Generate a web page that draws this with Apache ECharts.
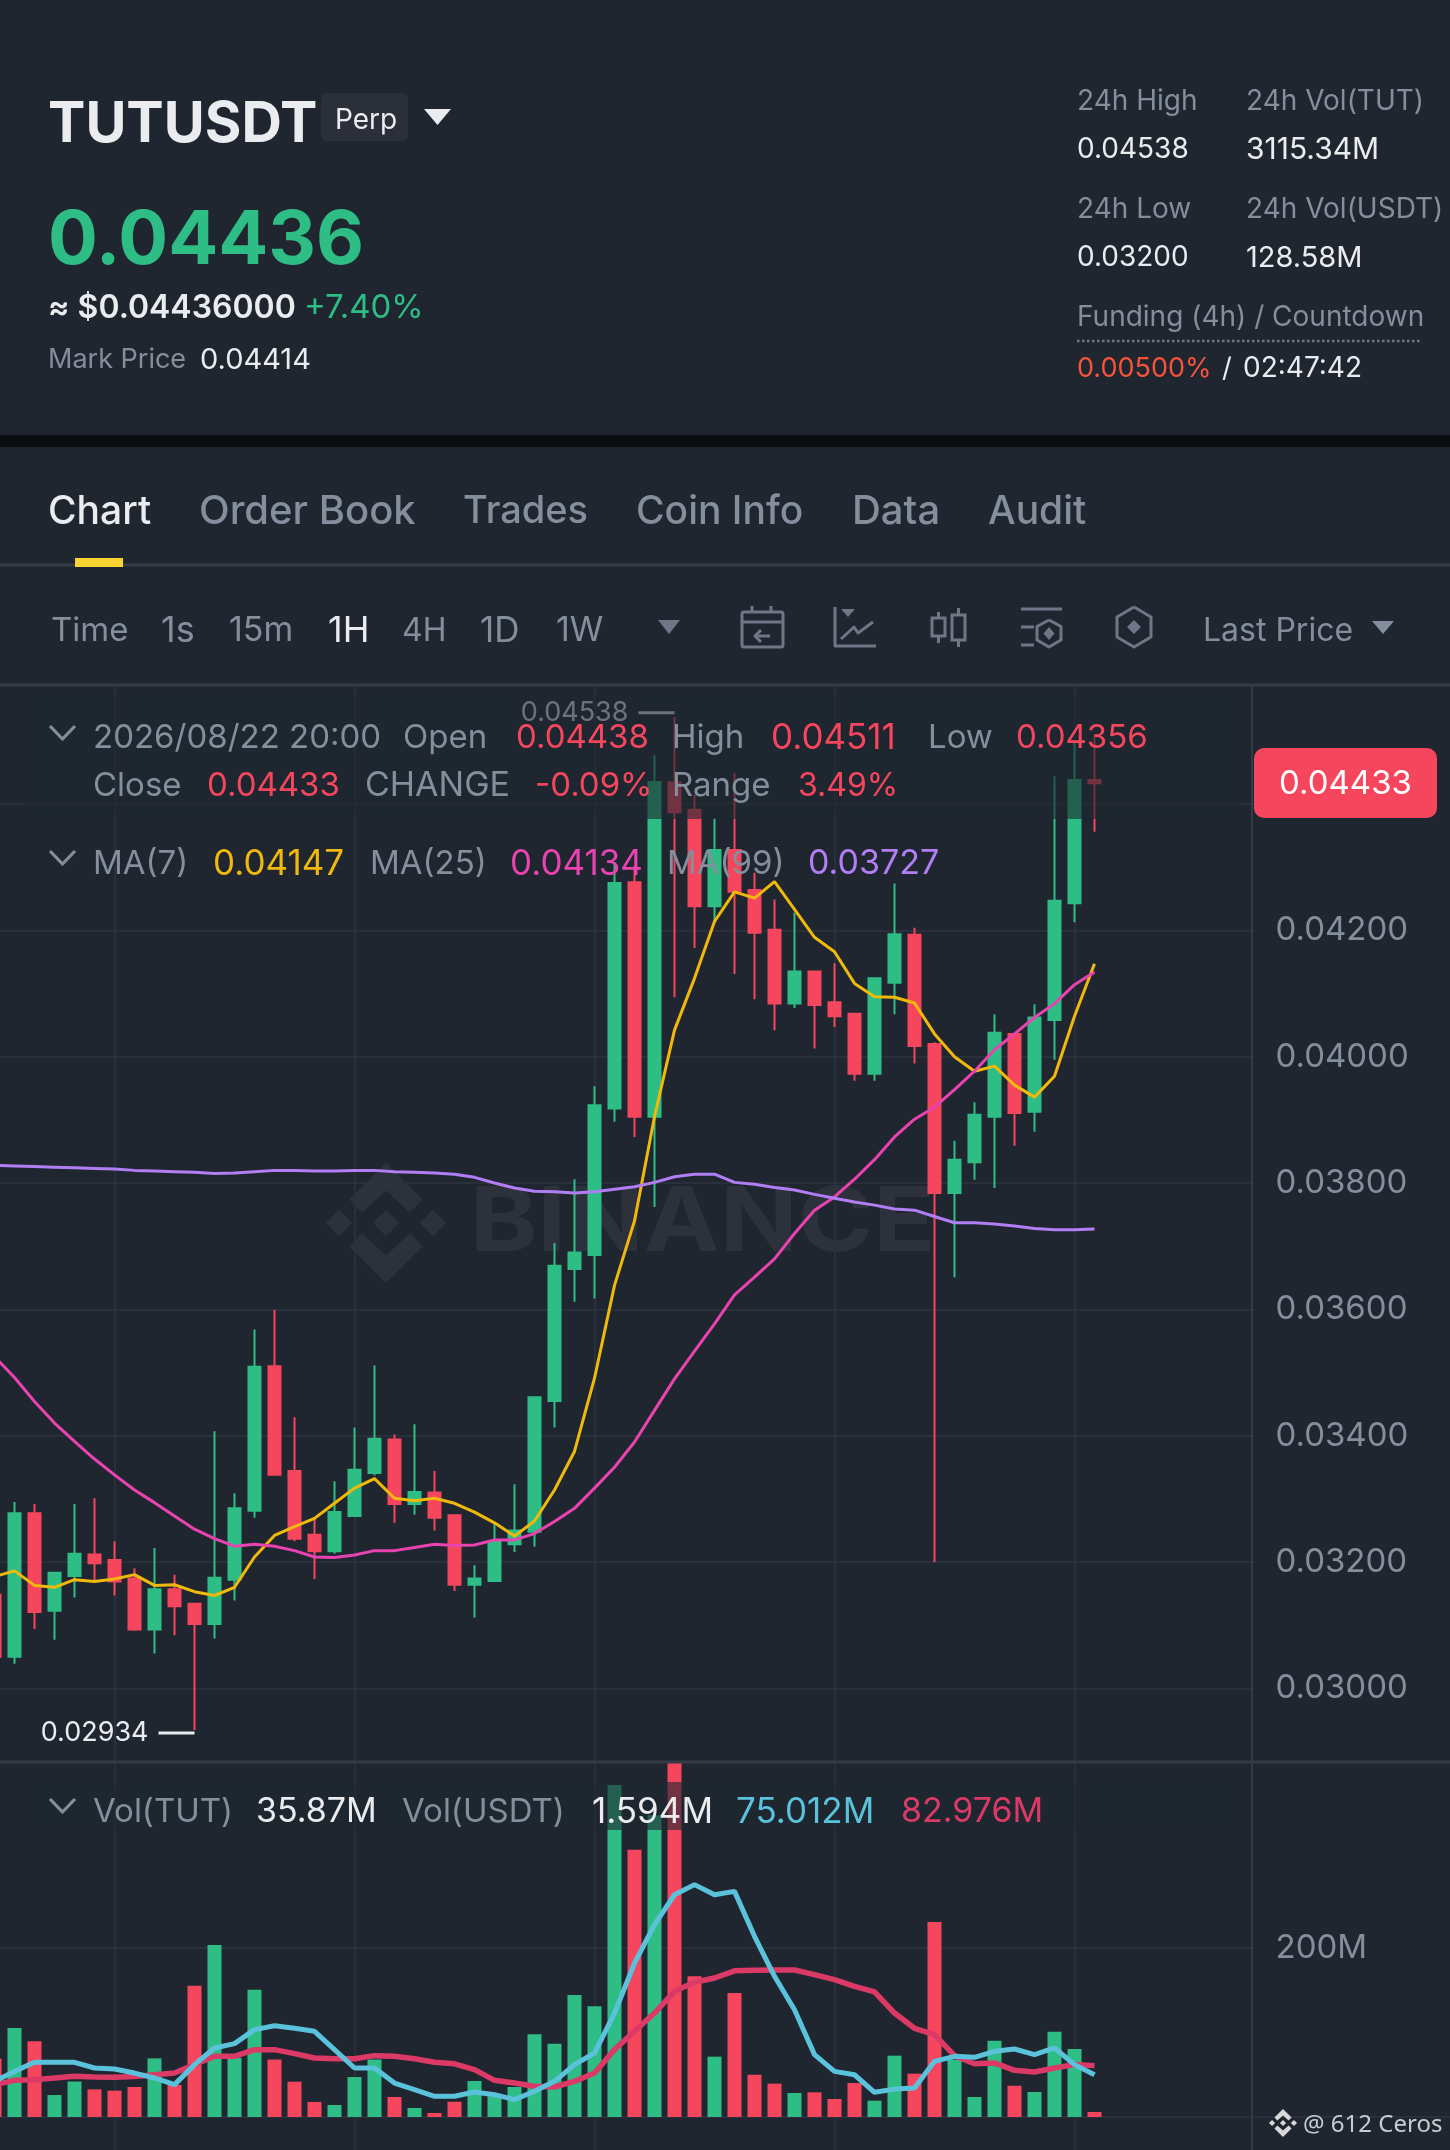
<!DOCTYPE html>
<html><head><meta charset="utf-8">
<style>html,body{margin:0;padding:0;background:#1F2630}#c{width:1450px;height:2150px}</style>
<script src="https://cdn.jsdelivr.net/npm/echarts@6/dist/echarts.min.js"></script>
</head><body><div id="c"></div>
<script>
const categories = [
'08/20 13:00','08/20 14:00','08/20 15:00','08/20 16:00','08/20 17:00','08/20 18:00','08/20 19:00','08/20 20:00','08/20 21:00','08/20 22:00','08/20 23:00',
'08/21 00:00','08/21 01:00','08/21 02:00','08/21 03:00','08/21 04:00','08/21 05:00','08/21 06:00','08/21 07:00','08/21 08:00','08/21 09:00','08/21 10:00','08/21 11:00','08/21 12:00','08/21 13:00','08/21 14:00','08/21 15:00','08/21 16:00','08/21 17:00','08/21 18:00','08/21 19:00','08/21 20:00','08/21 21:00','08/21 22:00','08/21 23:00',
'08/22 00:00','08/22 01:00','08/22 02:00','08/22 03:00','08/22 04:00','08/22 05:00','08/22 06:00','08/22 07:00','08/22 08:00','08/22 09:00','08/22 10:00','08/22 11:00','08/22 12:00','08/22 13:00','08/22 14:00','08/22 15:00','08/22 16:00','08/22 17:00','08/22 18:00','08/22 19:00','08/22 20:00',
'08/22 21:00','08/22 22:00','08/22 23:00','08/23 00:00','08/23 01:00','08/23 02:00','08/23 03:00','08/23 04:00'];

const opens = [.03148,.03050,.03277,.03123,.03178,.03212,.03203,.03174,.03093,.03157,.03134,.03102,.03172,.03281,.03510,.03344,.03243,.03217,.03273,.03341,.03394,.03292,.03310,.03274,.03164,.03170,.03228,.03248,.03455,.03664,.03686,.03918,.04276,.03905,.04434,.04391,.04238,.04327,.04264,.04201,.04084,.04135,.04086,.04068,.03973,.04117,.04193,.04020,.03784,.03833,.03905,.04036,.03913,.04058,.04243,.04438];
const closes = [.03050,.03277,.03121,.03183,.03213,.03198,.03169,.03093,.03157,.03130,.03102,.03175,.03285,.03509,.03338,.03237,.03217,.03279,.03346,.03395,.03292,.03311,.03270,.03164,.03174,.03232,.03250,.03461,.03669,.03690,.03923,.04275,.03905,.04435,.04387,.04238,.04327,.04261,.04196,.04084,.04135,.04082,.04064,.03973,.04124,.04194,.04017,.03784,.03837,.03908,.04038,.03911,.04062,.04247,.04438,.04433];
const lows = [.03030,.03039,.03094,.03077,.03144,.03169,.03147,.03091,.03055,.03084,.02934,.03079,.03139,.03270,.03338,.03233,.03173,.03213,.03273,.03337,.03262,.03275,.03250,.03154,.03112,.03170,.03216,.03224,.03413,.03612,.03617,.03897,.03873,.03762,.04094,.04172,.04213,.04131,.04091,.04042,.04077,.04013,.04047,.03962,.03962,.04067,.03989,.03200,.03651,.03805,.03792,.03859,.03881,.03995,.04213,.04356];
const highs = [.03160,.03295,.03292,.03183,.03292,.03301,.03233,.03190,.03222,.03180,.03134,.03407,.03309,.03568,.03599,.03429,.03271,.03328,.03413,.03511,.03402,.03418,.03344,.03275,.03195,.03260,.03323,.03462,.03705,.03806,.03953,.04308,.04302,.04477,.04538,.04415,.04377,.04449,.04291,.04249,.04228,.04135,.04148,.04068,.04124,.04274,.04204,.04023,.03867,.03928,.04067,.04036,.04083,.04444,.04499,.04511];
const ma7 = [.03177,.03186,.03163,.03160,.03172,.03169,.03173,.03180,.03163,.03164,.03153,.03147,.03160,.03208,.03242,.03256,.03269,.03293,.03317,.03332,.03301,.03297,.03301,.03293,.03279,.03262,.03241,.03265,.03314,.03375,.03491,.03638,.03740,.03905,.04042,.04124,.04214,.04261,.04251,.04277,.04233,.04189,.04166,.04116,.04095,.04094,.04085,.04036,.04000,.03977,.03985,.03955,.03936,.03969,.04064,.04147];
const ma25 = [.03525,.03492,.03454,.03420,.03391,.03363,.03338,.03314,.03294,.03273,.03252,.03237,.03225,.03228,.03225,.03218,.03208,.03207,.03211,.03218,.03218,.03223,.03228,.03226,.03227,.03235,.03235,.03245,.03264,.03285,.03317,.03350,.03390,.03440,.03490,.03534,.03577,.03623,.03651,.03680,.03720,.03757,.03778,.03806,.03837,.03873,.03901,.03920,.03948,.03977,.04011,.04036,.04062,.04084,.04114,.04134];
const ma99 = [.03828,.03827,.03826,.03825,.03824,.03823,.03822,.03820,.03819,.03818,.03817,.03815,.03816,.03818,.03820,.03820,.03819,.03819,.03820,.03820,.03818,.03817,.03816,.03814,.03809,.03800,.03792,.03787,.03786,.03784,.03786,.03790,.03794,.03801,.03810,.03814,.03814,.03801,.03798,.03793,.03789,.03782,.03776,.03770,.03765,.03759,.03757,.03747,.03737,.03737,.03735,.03732,.03728,.03726,.03726,.03727];
const volumes = [69,105.3,89.6,26,42,32.7,31.2,35.5,69.4,38,155.4,203.6,70,150.7,68,41.8,17.8,14.2,47.3,68,23.7,10.7,4.7,18.1,42.6,24.5,35.5,97.8,86.8,144.4,131,393,316.4,357,419,166.5,71.4,146.8,50,39.5,28.4,29.2,21.3,40.2,19.3,72.6,51.3,230.8,67.9,23.7,90.3,37,29.6,101,80.5,5.9];
const volMa7 = [42.2,54,64.7,64.7,64.7,58,56.8,52,46.2,38.3,62,81.7,86.8,103.4,108,105,101.4,79.7,58,58,40.2,32.3,24.5,24.5,29.6,26.4,20.5,30.4,42.2,62,75.7,123,182,227.6,263,275,263,267,213.8,166.5,127,73.8,54,50,29.2,33,34.3,65.9,71.8,70.6,77.7,80.5,73.8,81.7,62,50];
const volMa25 = [38.3,43.4,44.2,46.2,48.1,47.3,47,48,50,52,62,71.8,71.8,79.7,79.7,75,69.8,69,69,72.6,71.8,69,64.7,63,56,43.4,40.2,36.3,35.5,42.2,52,79.7,101.4,123,148.7,159.4,164.5,173,173.6,174,174,168.5,162.5,154.6,148,123,105,97.4,72.6,63,64,55.2,53.3,58,62,60.8];
const priceTicks = [.030,.032,.034,.036,.038,.040,.042,.044];
const priceLabels = [.030,.032,.034,.036,.038,.040,.042];

const BG='#1F2630', UP='#2EBD85', DOWN='#F6465D', GREY='#848E9C', WHITE='#EAECEF', LINE='#343B47', GRID='#2A303B', FONT='Inter';
const els=[];
const T=(x,y,text,fill,size,weight,align,z,extra)=>els.push(Object.assign({type:'text',x,y:y+3,z:z||60,silent:true,style:{text,fill,font:(weight||400)+' '+size+'px '+FONT+', sans-serif',textAlign:align||'left',textVerticalAlign:'middle'}},extra||{}));
const R=(x,y,w,h,fill,z,r)=>els.push({type:'rect',z:z==null?60:z,silent:true,shape:{x,y,width:w,height:h,r:r||0},style:{fill}});
const L=(pts,stroke,w,z)=>els.push({type:'polyline',z:z==null?60:z,silent:true,shape:{points:pts},style:{stroke,lineWidth:w||3,fill:null,lineJoin:'round'}});
const P=(pts,fill,z)=>els.push({type:'polygon',z:z==null?60:z,silent:true,shape:{points:pts},style:{fill}});
const logo=(cx,cy,s,fill,z)=>{
  const m=(a)=>a.map(p=>[cx+p[0]*s,cy+p[1]*s]);
  const dia=(c)=>m([[c,-.22],[c+.22,0],[c,.22],[c-.22,0]]);
  P(dia(0),fill,z);P(dia(-.78),fill,z);P(dia(.78),fill,z);
  P(m([[0,-1],[.61,-.39],[.4,-.17],[0,-.54],[-.4,-.17],[-.61,-.39]]),fill,z);
  P(m([[0,1],[.61,.39],[.4,.17],[0,.54],[-.4,.17],[-.61,.39]]),fill,z);
};

// page chrome
R(0,435,1450,12,'#0B0E11',1);
R(0,563.5,1450,3,LINE,1);
R(0,683.5,1450,3,LINE,1);
R(75,558,48,9,'#FCD535',2);
R(321,93,87,48,'#2A2F3A',2,6);
T(48,122,'TUTUSDT',WHITE,56,700);
T(335,118,'Perp',WHITE,28,400);
P([[424,109],[451,109],[437.5,125]],WHITE);
T(48,239,'0.04436',UP,74,700);
T(48,305,'≈ $0.04436000',WHITE,32,600);
T(304,305,'+7.40%',UP,33,400);
T(48,357,'Mark Price',GREY,27,400);
T(200,357,'0.04414',WHITE,29,400);
T(1077,99,'24h High',GREY,28,400);
T(1246,99,'24h Vol(TUT)',GREY,28,400);
T(1077,147,'0.04538',WHITE,28,400);
T(1246,147,'3115.34M',WHITE,30,400);
T(1077,207,'24h Low',GREY,28,400);
T(1246,207,'24h Vol(USDT)',GREY,28,400);
T(1077,255,'0.03200',WHITE,28,400);
T(1246,255,'128.58M',WHITE,29,400);
T(1077,315,'Funding (4h) / Countdown',GREY,28,400);
els.push({type:'line',z:60,silent:true,shape:{x1:1077,y1:341,x2:1422,y2:341},style:{stroke:'#6F7787',lineWidth:2.5,lineDash:[2.5,2.5]}});
T(1077,366,'0.00500%','#F6533A',27,400);
T(1222,366,'/',WHITE,27,400);
T(1243,366,'02:47:42',WHITE,28,400);

[['Chart',48,WHITE,39],['Order Book',199,GREY,40],['Trades',463,GREY,38],['Coin Info',636,GREY,39],['Data',852,GREY,40],['Audit',988,GREY,39]]
 .forEach(t=>T(t[1],509,t[0],t[2],t[3],500));
[['Time',51,GREY,33],['1s',161,GREY,36],['15m',229,GREY,34],['1H',328,WHITE,36],['4H',402,GREY,32],['1D',480,GREY,35],['1W',556,GREY,34]]
 .forEach(t=>T(t[1],628,t[0],t[2],t[3],400));
P([[658,620],[680,620],[669,634]],'#6F7787');
T(1203,628,'Last Price',GREY,32,400);
P([[1372,621],[1394,621],[1383,634]],'#848E9C');

// toolbar icons
const IC='#6F7787';
els.push({type:'rect',z:60,silent:true,shape:{x:742,y:612,width:41,height:35,r:2},style:{stroke:IC,lineWidth:3,fill:null}});
L([[752,606],[752,612]],IC);L([[771,606],[771,612]],IC);L([[742,622],[783,622]],IC);
L([[770,636],[755,636]],IC);L([[761,630],[755,636],[761,642]],IC);
L([[835,607],[835,646],[876,646]],IC);P([[841,609],[855,609],[848,617]],IC);
L([[841,639],[854,627],[858,633],[873,622]],IC);
els.push({type:'rect',z:60,silent:true,shape:{x:932,y:618,width:13,height:18},style:{stroke:IC,lineWidth:3,fill:null}});
els.push({type:'rect',z:60,silent:true,shape:{x:952,y:615,width:13,height:25},style:{stroke:IC,lineWidth:3,fill:null}});
L([[938.5,612],[938.5,618]],IC);L([[938.5,636],[938.5,643]],IC);L([[958.5,608],[958.5,615]],IC);L([[958.5,640],[958.5,647]],IC);
L([[1021,609],[1062,609]],IC);L([[1021,627],[1034,627]],IC);L([[1021,645],[1034,645]],IC);
L([[1049,620],[1061,626.5],[1061,640],[1049,647],[1037,640],[1037,626.5],[1049,620]],IC);P([[1049,627],[1054.5,633.5],[1049,640],[1043.5,633.5]],IC);
L([[1134,607],[1151,617],[1151,637],[1134,647],[1117,637],[1117,617],[1134,607]],IC);P([[1134,620],[1141,627],[1134,634],[1127,627]],IC);

// chart watermark
logo(386,1223,60,'#2D313B',1);
T(470,1221,'BINANCE','#2D313B',102,700,'left',1,{scaleY:0.88});

// dimming bands under the legend rows
R(24,695,1216,124,'rgba(31,38,48,0.62)',50);
R(24,1782,1216,48,'rgba(31,38,48,0.62)',50);

// last price button
R(1254,748,183,70,DOWN,60,10);
T(1345.5,781,'0.04433','#FFFFFF',33,400,'center',61);

// legend
const chev=(y)=>L([[50,y],[62.5,y+13],[75,y]],GREY,3.2);
chev(726);chev(851);chev(1799);
[['2026/08/22 20:00',93,GREY,33],['Open',403,GREY,33],['0.04438',516,DOWN,33],['High',672,GREY,33],['0.04511',771,DOWN,35],['Low',928,GREY,33],['0.04356',1016,DOWN,33]]
 .forEach(t=>T(t[1],735,t[0],t[2],t[3]));
[['Close',93,GREY,33],['0.04433',207,DOWN,33],['CHANGE',365,GREY,34],['-0.09%',535,DOWN,33],['Range',672,GREY,33],['3.49%',798,DOWN,32]]
 .forEach(t=>T(t[1],783,t[0],t[2],t[3]));
[['MA(7)',93,GREY,33],['0.04147',213,'#F0B90B',35],['MA(25)',370,GREY,33],['0.04134',510,'#E843B0',35],['MA(99)',667,GREY,33],['0.03727',808,'#B17EF5',34]]
 .forEach(t=>T(t[1],861,t[0],t[2],t[3]));
[['Vol(TUT)',93,GREY,33],['35.87M',256,WHITE,34],['Vol(USDT)',402,GREY,33],['1.594M',592,WHITE,35],['75.012M',736,'#5BC2DC',35],['82.976M',901,'#DC3A66',34]]
 .forEach(t=>T(t[1],1809,t[0],t[2],t[3]));

// frame
R(1251,685,2,1465,LINE,3);
R(0,1760.5,1450,3,LINE,3);
R(1252,2116,198,2,GRID,1);
logo(1283,2123,14,'#D8D8D8',70);
els.push({type:'text',x:1303,y:2125,z:70,silent:true,style:{text:'@ 612 Ceros',fill:'#C9CCD1',font:'400 24px "Noto Sans", sans-serif',textAlign:'left',textVerticalAlign:'middle'}});

const chart=echarts.init(document.getElementById('c'),null,{width:1450,height:2150,renderer:'canvas'});
const splitX={show:true,interval:(i)=>(i-6)%12===0,lineStyle:{color:GRID,width:2}};
const xBase={type:'category',data:categories,boundaryGap:false,axisLine:{show:false},axisTick:{show:false},axisLabel:{show:false},splitLine:splitX};
chart.setOption({
  animation:false,backgroundColor:BG,tooltip:{show:false},legend:{show:false},
  grid:[{left:-5.5,top:685,width:1260,height:1077,outerBoundsMode:'none'},{left:-5.5,top:1762,width:1260,height:388,outerBoundsMode:'none'}],
  xAxis:[Object.assign({gridIndex:0},xBase),Object.assign({gridIndex:1},xBase)],
  yAxis:[
    {gridIndex:0,type:'value',position:'right',min:.028834,max:.045884,scale:true,
     axisLine:{show:false},axisTick:{show:false,customValues:priceTicks},
     axisLabel:{customValues:priceLabels,formatter:v=>v.toFixed(5),color:GREY,fontSize:33,fontFamily:FONT,margin:21},
     splitLine:{show:true,lineStyle:{color:GRID,width:2}}},
    {gridIndex:1,type:'value',position:'right',min:-39.05,max:420.1,
     axisLine:{show:false},axisTick:{show:false,customValues:[0,200]},
     axisLabel:{customValues:[200],formatter:v=>v+'M',color:GREY,fontSize:33,fontFamily:FONT,margin:21},
     splitLine:{show:true,lineStyle:{color:GRID,width:2}}}
  ],
  graphic:{elements:els},
  series:[
    {type:'candlestick',xAxisIndex:0,yAxisIndex:0,barWidth:12,
     data:opens.map((o,i)=>[o,closes[i],lows[i],highs[i]]),
     itemStyle:{color:UP,color0:DOWN,borderColor:UP,borderColor0:DOWN,borderWidth:2},
     markPoint:{silent:true,animation:false,data:[
       {coord:[categories[10],.02934],symbol:'rect',symbolSize:[36,3],symbolOffset:[-18,3],itemStyle:{color:WHITE},
        label:{show:true,position:'left',distance:10,formatter:'0.02934',color:WHITE,fontSize:27,fontFamily:FONT}},
       {coord:[categories[34],.04538],symbol:'rect',symbolSize:[36,3],symbolOffset:[-18,-4],itemStyle:{color:WHITE},
        label:{show:true,position:'left',distance:10,formatter:'0.04538',color:WHITE,fontSize:27,fontFamily:FONT}}
     ]}},
    {type:'line',name:'MA(7)',xAxisIndex:0,yAxisIndex:0,data:ma7,symbol:'none',lineStyle:{color:'#F0B90B',width:3}},
    {type:'line',name:'MA(25)',xAxisIndex:0,yAxisIndex:0,data:ma25,symbol:'none',lineStyle:{color:'#E843B0',width:3}},
    {type:'line',name:'MA(99)',xAxisIndex:0,yAxisIndex:0,data:ma99,symbol:'none',lineStyle:{color:'#B17EF5',width:3}},
    {type:'bar',name:'Vol',xAxisIndex:1,yAxisIndex:1,barWidth:14,data:volumes,
     itemStyle:{color:p=>closes[p.dataIndex]>=opens[p.dataIndex]?UP:DOWN}},
    {type:'line',name:'Vol MA25',xAxisIndex:1,yAxisIndex:1,data:volMa25,symbol:'none',lineStyle:{color:'#DC3A66',width:5.5}},
    {type:'line',name:'Vol MA7',xAxisIndex:1,yAxisIndex:1,data:volMa7,symbol:'none',lineStyle:{color:'#5BC2DC',width:5}}
  ]
});
</script></body></html>
